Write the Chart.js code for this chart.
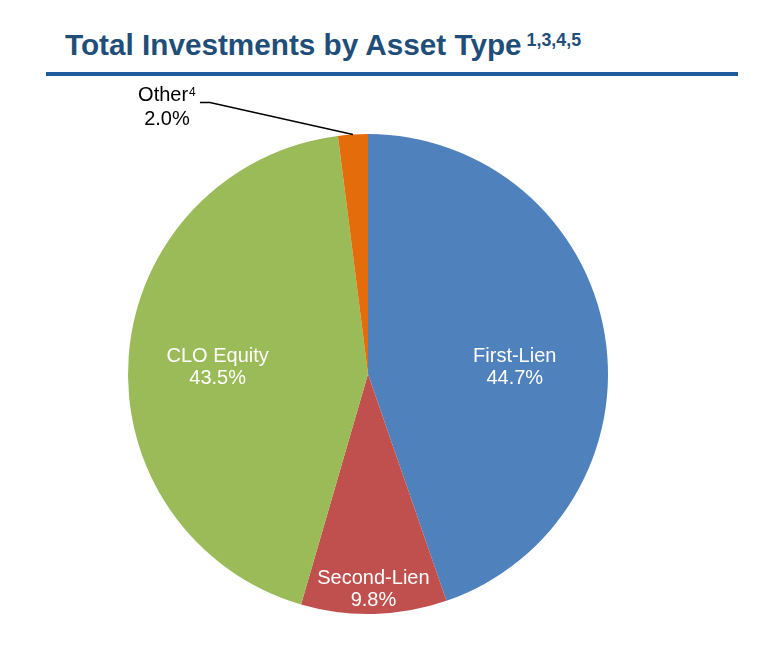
<!DOCTYPE html>
<html>
<head>
<meta charset="utf-8">
<script src="https://cdn.jsdelivr.net/npm/chart.js@4.4.0/dist/chart.umd.min.js"></script>
<style>
  html, body { margin: 0; padding: 0; background: #fff; }
  #wrap { position: relative; width: 770px; height: 670px; font-family: "Liberation Sans", Arial, sans-serif; }
  #title { position: absolute; left: 65px; top: 28px; font-size: 30px; font-weight: bold; color: #1F4E79;
           white-space: nowrap; transform-origin: 0 0; transform: scaleX(0.99); }
  #title sup { font-size: 18px; position: relative; top: 2px; margin-left: 5px; vertical-align: top; }
  #rule { position: absolute; left: 46px; top: 72px; width: 692px; height: 4px; background: #1F5C9E; }
  canvas { position: absolute; left: 0; top: 0; }
</style>
</head>
<body>
<div id="wrap">
  <div id="title">Total Investments by Asset Type<sup>1,3,4,5</sup></div>
  <div id="rule"></div>
  <canvas id="pie" width="770" height="670"></canvas>
</div>
<script>
const labels = ["First-Lien", "Second-Lien", "CLO Equity", "Other"];
const superscripts = ["", "", "", "4"];
const values = [44.7, 9.8, 43.5, 2.0];
const colors = ['#4F81BD', '#C0504D', '#9BBB59', '#E46C0A'];

// label placement: fraction of radius along the mid-angle, plus a small nudge; null = outside with leader line
const labelRadius = [0.62, 0.9, 0.62, null];
const labelNudge = [[0, 18], [0, 0], [-2, 5], [0, 0]];

const sliceLabels = {
  id: 'sliceLabels',
  afterDatasetsDraw(chart) {
    let ctx = chart.ctx;
    let arcs = chart.getDatasetMeta(0).data;
    let font = '20px "Liberation Sans", Arial, sans-serif';
    ctx.save();
    ctx.textAlign = 'center';
    ctx.textBaseline = 'middle';
    arcs.forEach((arc, i) => {
      let p = arc.getProps(['x', 'y', 'startAngle', 'endAngle', 'outerRadius'], true);
      let mid = (p.startAngle + p.endAngle) / 2;
      let pct = values[i].toFixed(1) + '%';
      if (labelRadius[i] !== null) {
        let r = p.outerRadius * labelRadius[i];
        let x = p.x + Math.cos(mid) * r + labelNudge[i][0];
        let y = p.y + Math.sin(mid) * r + labelNudge[i][1];
        ctx.fillStyle = '#fff';
        ctx.font = font;
        ctx.fillText(labels[i], x, y - 11);
        ctx.fillText(pct, x, y + 11);
      } else {
        // leader line from slice edge out to the label
        let ex = p.x + Math.cos(mid) * p.outerRadius;
        let ey = p.y + Math.sin(mid) * p.outerRadius;
        let elbowX = ex - 143, elbowY = ey - 32;
        ctx.strokeStyle = '#000';
        ctx.lineWidth = 1.5;
        ctx.beginPath();
        ctx.moveTo(ex, ey);
        ctx.lineTo(elbowX, elbowY);
        ctx.lineTo(elbowX - 10, elbowY);
        ctx.stroke();
        ctx.fillStyle = '#000';
        let cx = elbowX - 43;
        ctx.font = font;
        let w = ctx.measureText(labels[i]).width;
        ctx.font = '12px "Liberation Sans", Arial, sans-serif';
        let sw = ctx.measureText(superscripts[i]).width + 1;
        let left = cx - (w + sw) / 2;
        ctx.textAlign = 'left';
        ctx.textBaseline = 'alphabetic';
        ctx.font = font;
        ctx.fillText(labels[i], left, elbowY - 1);
        ctx.font = '12px "Liberation Sans", Arial, sans-serif';
        ctx.fillText(superscripts[i], left + w + 1, elbowY - 6);
        ctx.textAlign = 'center';
        ctx.font = font;
        ctx.fillText(pct, cx, elbowY + 23);
      }
    });
    ctx.restore();
  }
};

new Chart(document.getElementById('pie').getContext('2d'), {
  type: 'pie',
  data: {
    labels: labels,
    datasets: [{
      data: values,
      backgroundColor: colors,
      borderWidth: 0
    }]
  },
  options: {
    responsive: false,
    animation: false,
    layout: { padding: { left: 128, right: 162, top: 134, bottom: 56 } },
    plugins: {
      legend: { display: false },
      tooltip: { enabled: false },
      title: { display: false }
    }
  },
  plugins: [sliceLabels]
});
</script>
</body>
</html>
